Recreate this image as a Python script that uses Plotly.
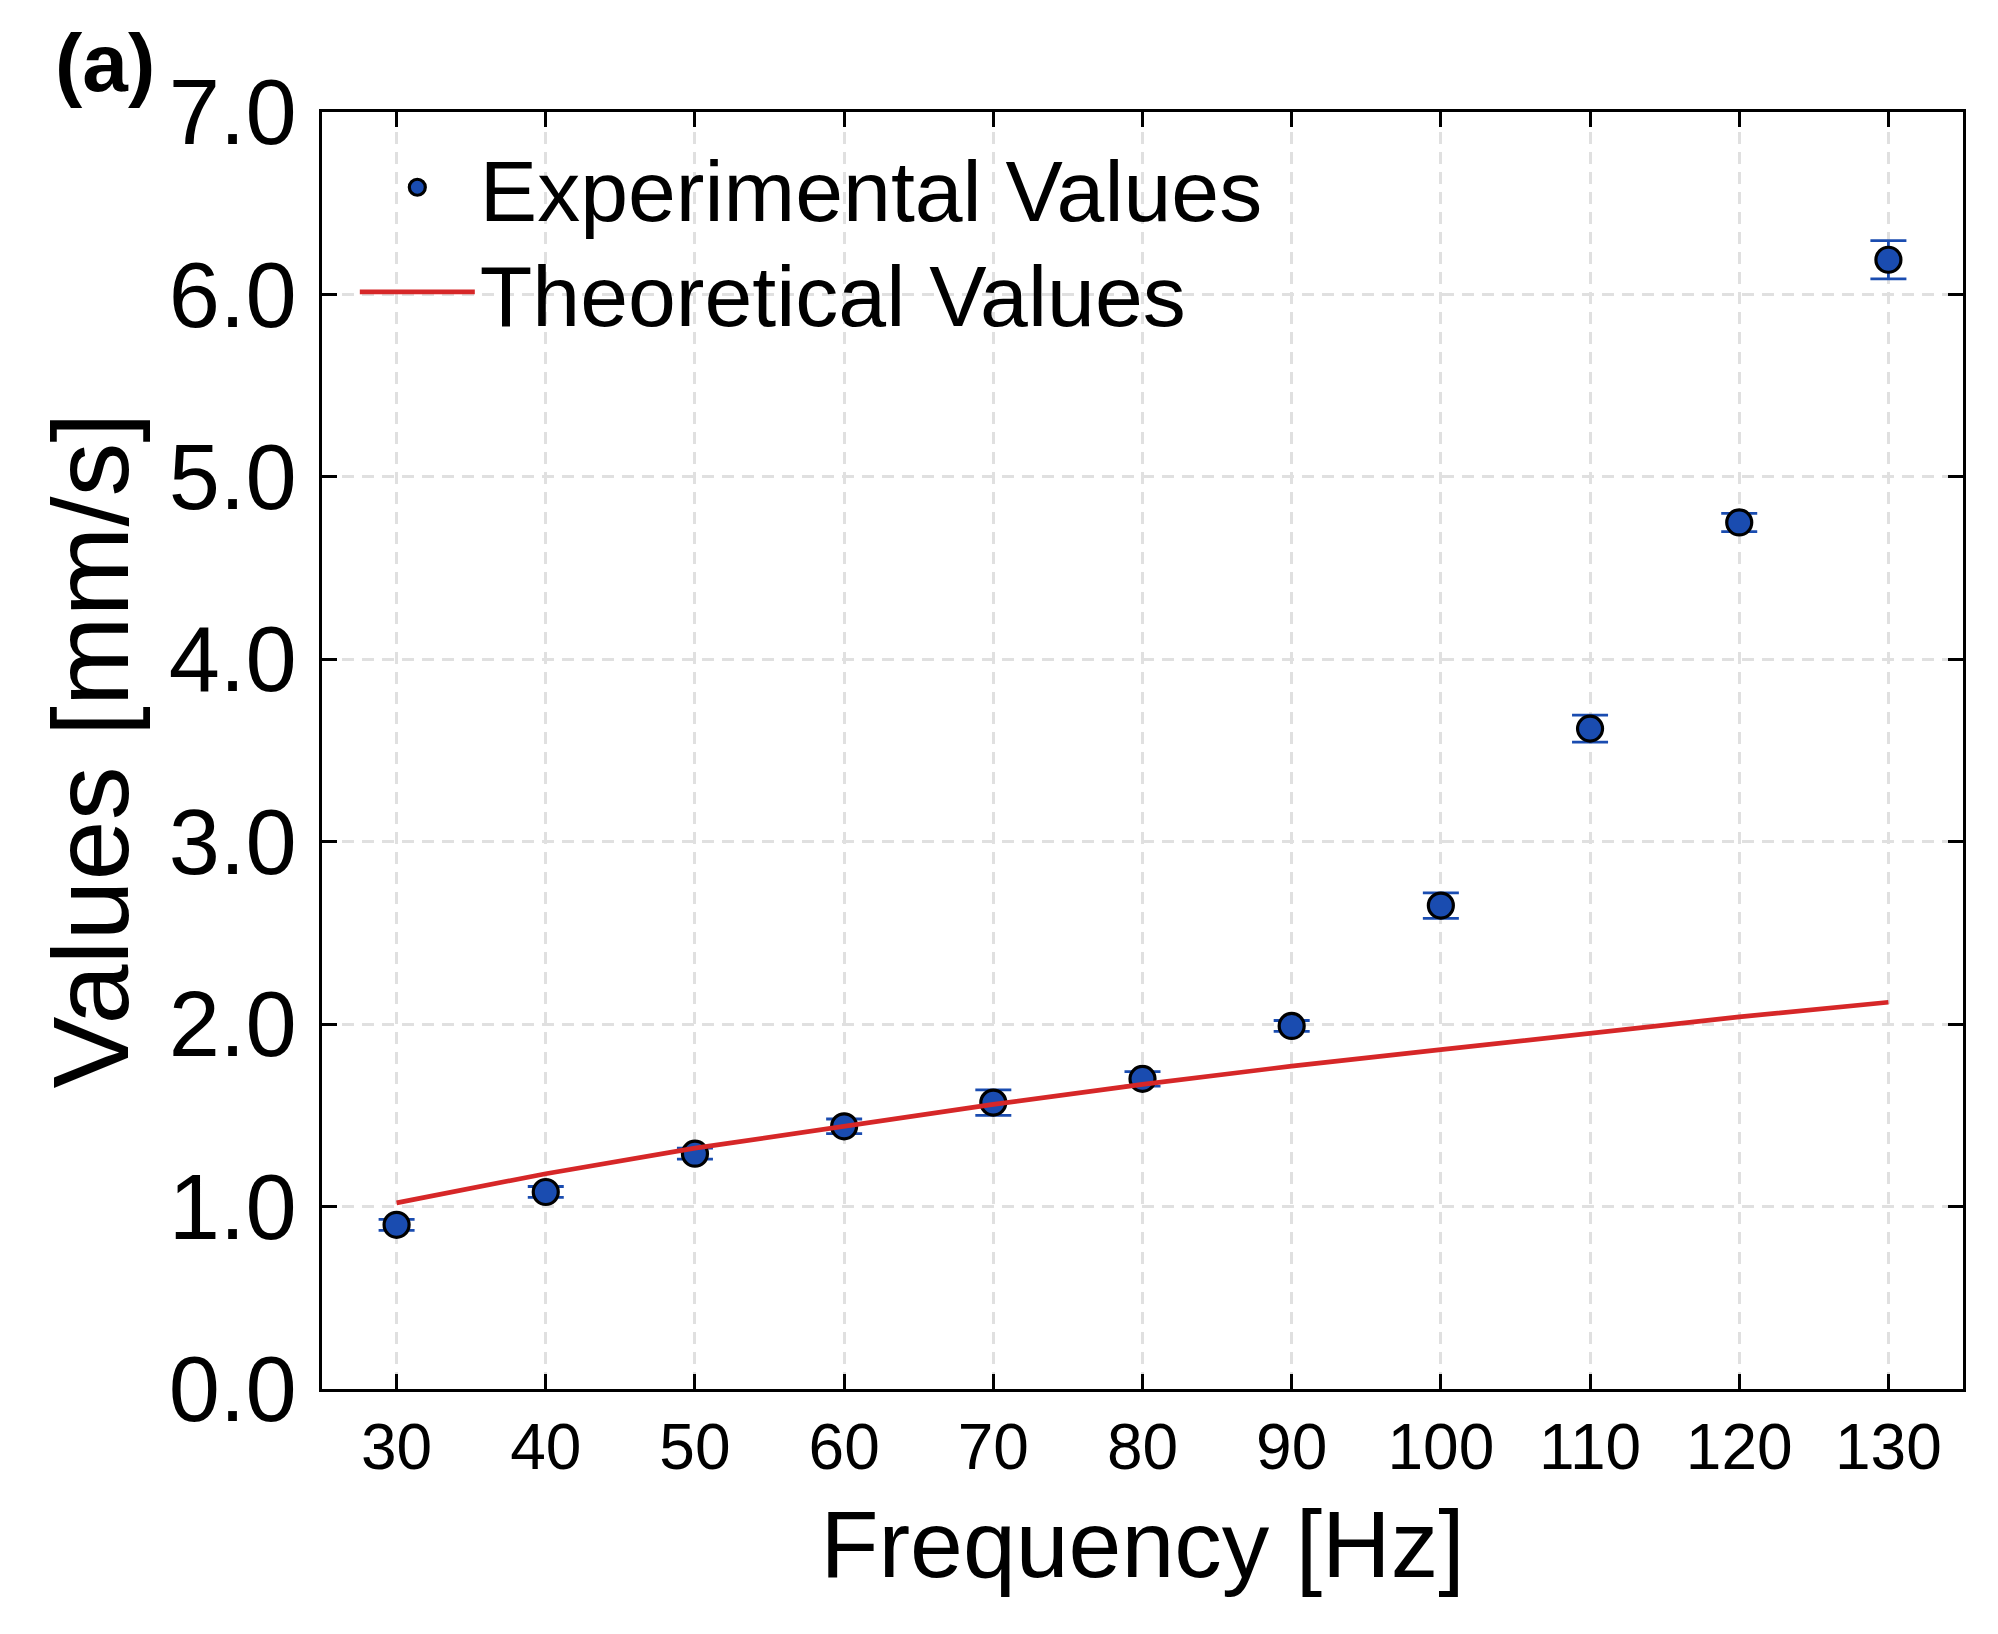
import plotly.graph_objects as go

freq = [30, 40, 50, 60, 70, 80, 90, 100, 110, 120, 130]
exp_vals = [0.90, 1.08, 1.29, 1.44, 1.57, 1.70, 1.99, 2.65, 3.62, 4.75, 6.19]
exp_err = [0.03, 0.03, 0.03, 0.04, 0.07, 0.04, 0.03, 0.07, 0.074, 0.05, 0.105]
theo_vals = [1.02, 1.18, 1.32, 1.44, 1.56, 1.67, 1.77, 1.86, 1.95, 2.04, 2.12]
xticks = [30, 40, 50, 60, 70, 80, 90, 100, 110, 120, 130]
yticks = [0, 1, 2, 3, 4, 5, 6, 7]
ytick_text = ["0.0", "1.0", "2.0", "3.0", "4.0", "5.0", "6.0", "7.0"]

FONT = "Liberation Sans, Arial, sans-serif"
BLUE = "#1a4cb0"
RED = "#d62728"

fig = go.Figure()
fig.add_trace(go.Scatter(
    x=freq, y=exp_vals, mode="markers", name="Experimental Values",
    marker=dict(size=25, color=BLUE, line=dict(color="black", width=3.2)),
    error_y=dict(type="data", array=exp_err, visible=True, color=BLUE,
                 thickness=2.8, width=18),
    legend="legend",
))
fig.add_trace(go.Scatter(
    x=freq, y=theo_vals, mode="lines", name="Theoretical Values",
    line=dict(color=RED, width=4.7),
    legend="legend2",
))

axis_common = dict(
    showline=True, linecolor="black", linewidth=3, mirror="ticks",
    ticks="inside", ticklen=15, tickwidth=2.5, tickcolor="black",
    showgrid=True, gridcolor="#e0e0e0", gridwidth=2.5, griddash="12px,8px",
    zeroline=False,
)

fig.update_xaxes(
    range=[25, 135], tickvals=xticks, ticktext=[str(v) for v in xticks],
    tickfont=dict(family=FONT, size=64, color="black"),
    title=dict(text="Frequency [Hz]", font=dict(family=FONT, size=95, color="black"), standoff=29),
    ticklabelstandoff=0,
    **axis_common,
)
fig.update_yaxes(
    range=[0, 7], tickvals=yticks, ticktext=ytick_text,
    tickfont=dict(family=FONT, size=92, color="black"),
    title=dict(text="Values [mm/s]", font=dict(family=FONT, size=108, color="black"), standoff=4),
    ticklabelstandoff=4,
    **axis_common,
)

fig.add_annotation(
    text="<b>(a)</b>", xref="paper", yref="paper", x=-0.164, y=1.0385,
    xanchor="left", yanchor="middle", showarrow=False,
    font=dict(family=FONT, size=82, color="black"),
)

leg_common = dict(
    xanchor="left", yanchor="middle",
    font=dict(family=FONT, size=86, color="black"),
    bgcolor="rgba(0,0,0,0)", itemwidth=115, tracegroupgap=0,
)
fig.update_layout(
    width=1998, height=1634,
    margin=dict(l=322, r=35, t=112, b=245),
    paper_bgcolor="white", plot_bgcolor="white",
    font=dict(family=FONT, color="black"),
    legend=dict(x=0.020, y=0.941, **leg_common),
    legend2=dict(x=0.020, y=0.859, **leg_common),
    showlegend=True,
)

fig.write_html("out.html")
